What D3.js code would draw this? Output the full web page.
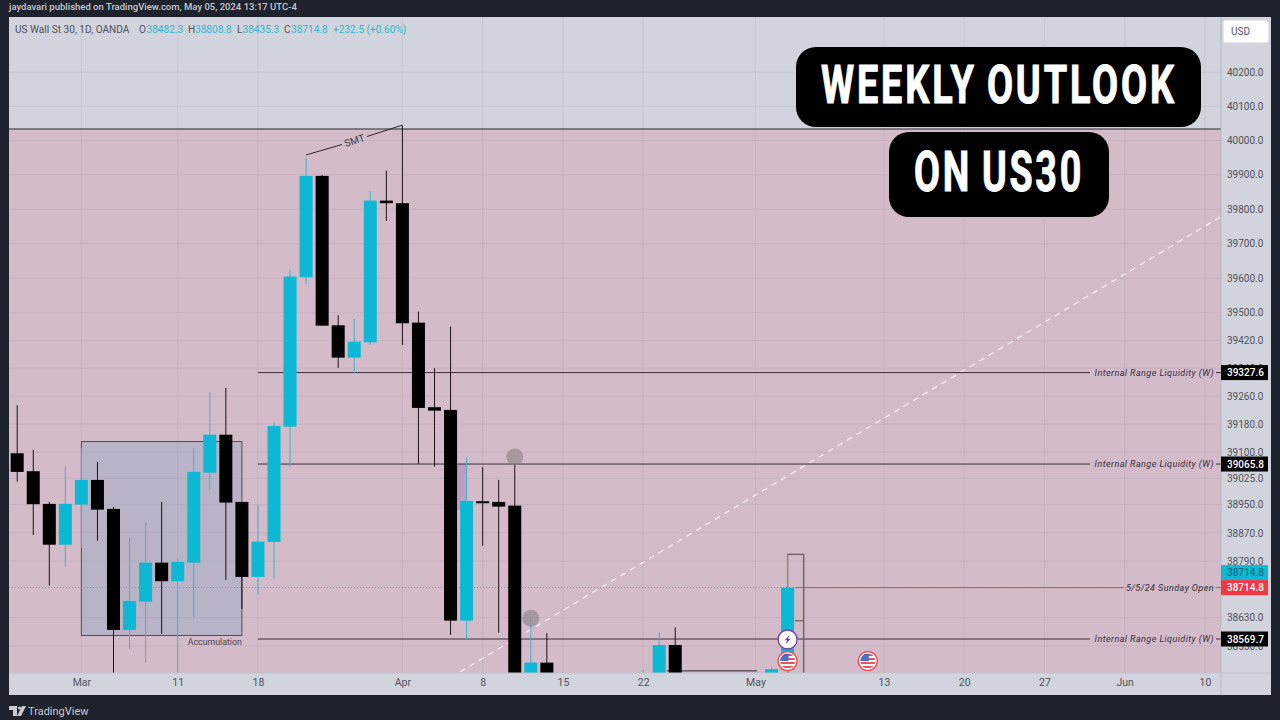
<!DOCTYPE html>
<html>
<head>
<meta charset="utf-8">
<script src="https://cdn.jsdelivr.net/npm/d3@7"></script>
<style>
  html, body { margin: 0; padding: 0; background: #1e222d; }
  svg { display: block; }
  text { font-family: Roboto, sans-serif; }
</style>
</head>
<body>
<svg id="chart" width="1280" height="720"></svg>
<script>
// daily bars, Feb 26 to May 3 2024. null = bar sits below the visible range
var days = ["Feb 26","Feb 27","Feb 28","Feb 29","Mar 1","Mar 4","Mar 5","Mar 6","Mar 7","Mar 8","Mar 11","Mar 12","Mar 13","Mar 14","Mar 15","Mar 18","Mar 19","Mar 20","Mar 21","Mar 22","Mar 25","Mar 26","Mar 27","Mar 28","Apr 1","Apr 2","Apr 3","Apr 4","Apr 5","Apr 8","Apr 9","Apr 10","Apr 11","Apr 12","Apr 15","Apr 16","Apr 17","Apr 18","Apr 19","Apr 22","Apr 23","Apr 24","Apr 25","Apr 26","Apr 29","Apr 30","May 1","May 2","May 3"];
var opens = [39096.5,39045.3,38952.2,38836.3,38950.2,39020.5,38937.9,38595.2,38675.2,38785.4,38732.9,38785.4,39041.3,39149.6,38957.8,38745.0,38844.0,39172.6,39602.6,39896.7,39463.7,39370.6,39414.7,39824.8,39817.2,39471.3,39228.2,39220.5,38621.5,38959.8,38957.8,38947.3,38380.0,38503.2,null,null,null,null,null,38400.0,38398.0,38552.9,null,null,null,null,null,38400.0,38482.3];
var highs = [39234.0,39106.0,38957.8,39060.4,39110.8,39071.8,38943.6,38856.2,38898.9,38957.8,38798.7,39110.8,39271.3,39283.6,38957.8,38950.2,39186.0,39623.6,39949.9,39899.6,39492.7,39482.0,39852.1,39912.1,40043.8,39503.1,39340.1,39459.8,39084.0,39057.5,39020.5,39065.2,38632.8,38586.7,null,null,null,null,null,38482.7,38588.7,38602.8,null,null,null,null,null,38491.1,38808.8];
var lows = [39015.7,38863.9,38720.4,38774.1,38827.8,38847.6,38426.6,38541.6,38503.2,38583.9,38426.6,38631.1,38994.0,38736.5,38654.5,38695.0,38739.4,39058.4,39583.2,39462.7,39341.0,39325.8,39407.0,39765.7,39407.0,39066.0,39058.4,38581.0,38568.9,38833.5,38587.5,38380.0,38350.0,38380.0,null,null,null,null,null,38380.0,38380.0,38400.0,null,null,null,null,null,38380.0,38435.3];
var closes = [39043.3,38951.3,38836.3,38952.2,39020.5,38935.9,38595.2,38677.2,38785.4,38732.9,38787.4,39043.3,39149.6,38955.9,38745.0,38844.8,39174.6,39604.3,39896.7,39462.7,39370.6,39416.5,39824.8,39817.2,39469.6,39226.2,39218.5,38621.5,38960.7,38955.9,38944.5,38398.0,38503.2,38400.0,null,null,null,null,null,38420.0,38552.9,38420.0,null,null,null,null,null,38484.7,38714.8];

var priceTicks = [40200,40100,40000,39900,39800,39700,39600,39500,39420,39340,39260,39180,39100,39025,38950,38870,38790,38630,38550];
var timeTickBars = [4,10,15,24,29,34,39,46,54,59,64,69,74];
var timeTickLabels = ["Mar","11","18","Apr","8","15","22","May","13","20","27","Jun","10"];

var levelPrices = [39327.6,39065.8,38569.7];
var levelLabel = "Internal Range Liquidity (W)";
var sundayOpen = 38714.8;
var rangeTop = 40033.6;

var W = 1280, H = 720;
var plotL = 9, plotR = 1221, plotT = 17, plotB = 673, axisR = 1271, timeB = 695;
var UP = "#0cb8d4", DOWN = "#000";

var svg = d3.select("#chart");

// price axis is logarithmic, the spacing tightens towards the top
var y = d3.scaleLog().domain([38569.7, 40000]).range([639, 140.5]);
var x = d3.scaleLinear().domain([0, 74]).range([17.2, 1204.9]);

// panels
svg.append("rect").attr("width", W).attr("height", H).attr("fill", "#1e222d");
svg.append("rect").attr("x", plotL).attr("y", plotT).attr("width", axisR - plotL).attr("height", timeB - plotT).attr("fill", "#d1d4dc");

svg.append("defs").append("clipPath").attr("id", "plotClip")
  .append("rect").attr("x", plotL).attr("y", plotT).attr("width", plotR - plotL).attr("height", plotB - plotT);
var plot = svg.append("g").attr("clip-path", "url(#plotClip)");

// pink range zone
plot.append("rect").attr("x", plotL).attr("width", plotR - plotL)
  .attr("y", y(rangeTop)).attr("height", plotB - y(rangeTop)).attr("fill", "#d3bbca");

// grid
plot.selectAll(".gridH").data(priceTicks).enter().append("line")
  .attr("x1", plotL).attr("x2", plotR).attr("y1", d => y(d)).attr("y2", d => y(d))
  .attr("stroke", "#7d7f96").attr("stroke-opacity", 0.12);
plot.selectAll(".gridV").data(timeTickBars).enter().append("line")
  .attr("x1", d => x(d)).attr("x2", d => x(d)).attr("y1", plotT).attr("y2", plotB)
  .attr("stroke", "#7d7f96").attr("stroke-opacity", 0.12);

// accumulation box
plot.append("rect").attr("x", x(4)).attr("width", x(14) - x(4))
  .attr("y", y(39130)).attr("height", y(38579.6) - y(39130))
  .attr("fill", "#8aa5c4").attr("fill-opacity", 0.35).attr("stroke", "#574c58");
plot.append("text").attr("x", x(14)).attr("y", y(38579.6) + 10).attr("text-anchor", "end")
  .attr("font-size", 8.8).attr("fill", "#4a4650").text("Accumulation");

// small box behind the Apr 4/5 bars
plot.append("rect").attr("x", x(27)).attr("width", x(28) - x(27))
  .attr("y", y(39065.8)).attr("height", y(38935) - y(39065.8)).attr("fill", "#b9a0c0");

// current price dotted line
plot.append("line").attr("x1", plotL).attr("x2", plotR).attr("y1", y(sundayOpen)).attr("y2", y(sundayOpen))
  .attr("stroke", "#5f9aa6").attr("stroke-dasharray", "1 2").attr("stroke-opacity", 0.8);

// rising dashed trend line
plot.append("line").attr("x1", x(27.59)).attr("y1", y(38477)).attr("x2", x(74.96)).attr("y2", y(39777.3))
  .attr("stroke", "#f3ecf1").attr("stroke-width", 1.3).attr("stroke-dasharray", "6 5");

// top of range
plot.append("line").attr("x1", plotL).attr("x2", plotR).attr("y1", y(rangeTop)).attr("y2", y(rangeTop))
  .attr("stroke", "#2d2730").attr("stroke-width", 1);

// liquidity levels
levelPrices.forEach(function (p) {
  plot.append("line").attr("x1", x(15)).attr("x2", 1090).attr("y1", y(p)).attr("y2", y(p)).attr("stroke", "#3a2e38");
  plot.append("line").attr("x1", 1216).attr("x2", plotR).attr("y1", y(p)).attr("y2", y(p)).attr("stroke", "#3a2e38");
  plot.append("text").attr("x", 1214).attr("y", y(p) + 3).attr("text-anchor", "end")
    .attr("font-size", 9).attr("font-style", "italic").attr("letter-spacing", 0.44).attr("fill", "#35303a").text(levelLabel);
});

// Sunday open level
plot.append("line").attr("x1", 795).attr("x2", 1124).attr("y1", y(sundayOpen)).attr("y2", y(sundayOpen)).attr("stroke", "#b0586f");
plot.append("line").attr("x1", 1216).attr("x2", plotR).attr("y1", y(sundayOpen)).attr("y2", y(sundayOpen)).attr("stroke", "#b0586f");
plot.append("text").attr("x", 1214).attr("y", y(sundayOpen) + 3).attr("text-anchor", "end")
  .attr("font-size", 9).attr("font-style", "italic").attr("letter-spacing", 0.44).attr("fill", "#35303a").text("5/5/24 Sunday Open");

// flat line at the bottom and last week projection box
plot.append("line").attr("x1", 667).attr("x2", 757).attr("y1", y(38480)).attr("y2", y(38480)).attr("stroke", "#2d2730");
plot.append("rect").attr("x", x(48)).attr("width", x(49) - x(48)).attr("y", y(38808.8)).attr("height", 140)
  .attr("fill", "none").attr("stroke", "#6e6269").attr("stroke-width", 1.4);
plot.append("line").attr("x1", 795).attr("x2", x(49)).attr("y1", y(38621)).attr("y2", y(38621)).attr("stroke", "#6b3a47");

// SMT
var smt = plot.append("g");
smt.append("line").attr("x1", x(18)).attr("y1", y(39957.8)).attr("x2", 342).attr("y2", 144.5).attr("stroke", "#2d2730");
smt.append("line").attr("x1", 367).attr("y1", 136.5).attr("x2", x(24)).attr("y2", y(40045)).attr("stroke", "#2d2730");
smt.append("text").attr("transform", "translate(354.5,140.5) rotate(-18)").attr("text-anchor", "middle").attr("dy", 3.5)
  .attr("font-size", 10).attr("fill", "#3d3a44").text("SMT");

// candles
var bars = days.map(function (d, i) {
  return { day: d, i: i, open: opens[i], high: highs[i], low: lows[i], close: closes[i] };
}).filter(d => d.open !== null);

plot.selectAll(".wick").data(bars).enter().append("line")
  .attr("class", "wick")
  .attr("x1", d => x(d.i)).attr("x2", d => x(d.i))
  .attr("y1", d => y(d.high)).attr("y2", d => y(d.low))
  .attr("stroke", d => d.close >= d.open ? "#3eb4cc" : "#1a1419");

plot.selectAll(".body").data(bars).enter().append("rect")
  .attr("class", "body")
  .attr("x", d => x(d.i) - 6.5).attr("width", 13)
  .attr("y", d => y(Math.max(d.open, d.close)))
  .attr("height", d => Math.max(2, Math.abs(y(d.open) - y(d.close))))
  .attr("fill", d => d.close >= d.open ? UP : DOWN);

// grey pivot dots
var dots = [[31, 39086], [32, 38628]];
plot.selectAll(".dot").data(dots).enter().append("circle")
  .attr("cx", d => x(d[0])).attr("cy", d => y(d[1])).attr("r", 8.5)
  .attr("fill", "#8d8288").attr("fill-opacity", 0.62);

// economic event badges
function usFlag(bar, id) {
  var cx = x(bar), cy = 661;
  var g = plot.append("g");
  g.append("circle").attr("cx", cx).attr("cy", cy).attr("r", 9.5).attr("fill", "#fff").attr("stroke", "#e8545c").attr("stroke-width", 1.6);
  svg.select("defs").append("clipPath").attr("id", id).append("circle").attr("cx", cx).attr("cy", cy).attr("r", 7.5);
  var f = g.append("g").attr("clip-path", "url(#" + id + ")");
  [-7, -3, 1, 5].forEach(function (o) {
    f.append("rect").attr("x", cx - 8).attr("y", cy + o).attr("width", 16).attr("height", 2).attr("fill", "#e8545c");
  });
  f.append("rect").attr("x", cx - 8).attr("y", cy - 8).attr("width", 9).attr("height", 8).attr("fill", "#4a6fc4");
}
usFlag(48, "flagA");
usFlag(53, "flagB");

var bolt = plot.append("g").attr("transform", "translate(" + x(48) + ",639.5)");
bolt.append("circle").attr("r", 9.5).attr("fill", "#fff").attr("stroke", "#7b3fa8").attr("stroke-width", 1.4);
bolt.append("path").attr("d", "M2.2,-5 L-3,0.8 L-0.4,0.8 L-2.2,5 L3,-0.8 L0.4,-0.8 Z").attr("fill", "#7b3fa8");

// axes
var yAxis = d3.axisRight(y).tickValues(priceTicks).tickSize(0).tickPadding(6).tickFormat(d3.format(".1f"));
var yG = svg.append("g").attr("transform", "translate(" + plotR + ",0)").call(yAxis);
yG.select(".domain").remove();
yG.selectAll("text").attr("font-size", 10).attr("fill", "#50535e").style("font-family", "Roboto, sans-serif");

var xAxis = d3.axisBottom(x).tickValues(timeTickBars).tickSize(0).tickPadding(6)
  .tickFormat((d, i) => timeTickLabels[i]);
var xG = svg.append("g").attr("transform", "translate(0," + plotB + ")").call(xAxis);
xG.select(".domain").remove();
xG.selectAll("text").attr("font-size", 10.5).attr("fill", "#50535e").style("font-family", "Roboto, sans-serif");

svg.append("line").attr("x1", plotR).attr("x2", plotR).attr("y1", plotT).attr("y2", timeB).attr("stroke", "#b4b7c1");
svg.append("line").attr("x1", plotL).attr("x2", axisR).attr("y1", plotB).attr("y2", plotB).attr("stroke", "#c0c3cc");

// price tags on the axis
function priceTag(cy, txt, bg, fg) {
  svg.append("rect").attr("x", plotR).attr("y", cy - 7.5).attr("width", 47).attr("height", 15).attr("fill", bg);
  svg.append("text").attr("x", plotR + 6).attr("y", cy + 3.6).attr("font-size", 10).attr("font-weight", 500).attr("fill", fg).text(txt);
}
levelPrices.forEach(p => priceTag(y(p), p.toFixed(1), "#000", "#fff"));
priceTag(y(sundayOpen) - 15, sundayOpen.toFixed(1), "#0cb8d4", "#136f80");
priceTag(y(sundayOpen), sundayOpen.toFixed(1), "#f23645", "#fff");

// USD button
svg.append("rect").attr("x", 1223.5).attr("y", 20.5).attr("width", 45).attr("height", 22).attr("rx", 2).attr("fill", "#fff");
svg.append("text").attr("x", 1231).attr("y", 35).attr("font-size", 10).attr("fill", "#50535e").text("USD");

// header and legend
svg.append("text").attr("x", 9).attr("y", 10).attr("font-size", 9.5).attr("font-weight", 500).attr("fill", "#c8cad0")
  .text("jaydavari published on TradingView.com, May 05, 2024 13:17 UTC-4");

var legend = [
  [15, "US Wall St 30, 1D, OANDA", "#50535e"],
  [139, "O", "#50535e"], [146.5, "38482.3", "#2cb9d2"],
  [188, "H", "#50535e"], [195, "38808.8", "#2cb9d2"],
  [237, "L", "#50535e"], [242.5, "38435.3", "#2cb9d2"],
  [284, "C", "#50535e"], [291, "38714.8", "#2cb9d2"],
  [333, "+232.5 (+0.60%)", "#2cb9d2"]
];
svg.selectAll(".legend").data(legend).enter().append("text")
  .attr("x", d => d[0]).attr("y", 33).attr("font-size", 10.1).attr("fill", d => d[2]).text(d => d[1]);

// footer logo
svg.append("path").attr("d", "M9,706 H17 V716 H13 V710 H9 Z M22,706 H26 L21,716 H17 Z").attr("fill", "#c8cad0");
svg.append("circle").attr("cx", 19.5).attr("cy", 708).attr("r", 1.6).attr("fill", "#c8cad0");
svg.append("text").attr("x", 28).attr("y", 715).attr("font-size", 11).attr("fill", "#c8cad0").text("TradingView");

// title cards, glyphs squeezed to the narrow poster look
var cards = [
  { x: 796, y: 47, w: 405, h: 80, tx: 821, tl: 356, by: 103, fs: 53, ls: 4, txt: "WEEKLY OUTLOOK" },
  { x: 889, y: 132, w: 220, h: 85, tx: 914, tl: 170, by: 191, fs: 56, ls: 4, txt: "ON US30" }
];
cards.forEach(function (c) {
  svg.append("rect").attr("x", c.x).attr("y", c.y).attr("width", c.w).attr("height", c.h).attr("rx", 20).attr("fill", "#000");
  var t = svg.append("text").attr("font-size", c.fs).attr("font-weight", 700)
    .attr("letter-spacing", c.ls).attr("word-spacing", -3)
    .attr("stroke", "#fff").attr("stroke-width", 1).attr("fill", "#fff").text(c.txt);
  var sx = c.tl / t.node().getComputedTextLength();
  t.attr("transform", "translate(" + c.tx + "," + c.by + ") scale(" + sx + ",1)");
});
</script>
</body>
</html>
